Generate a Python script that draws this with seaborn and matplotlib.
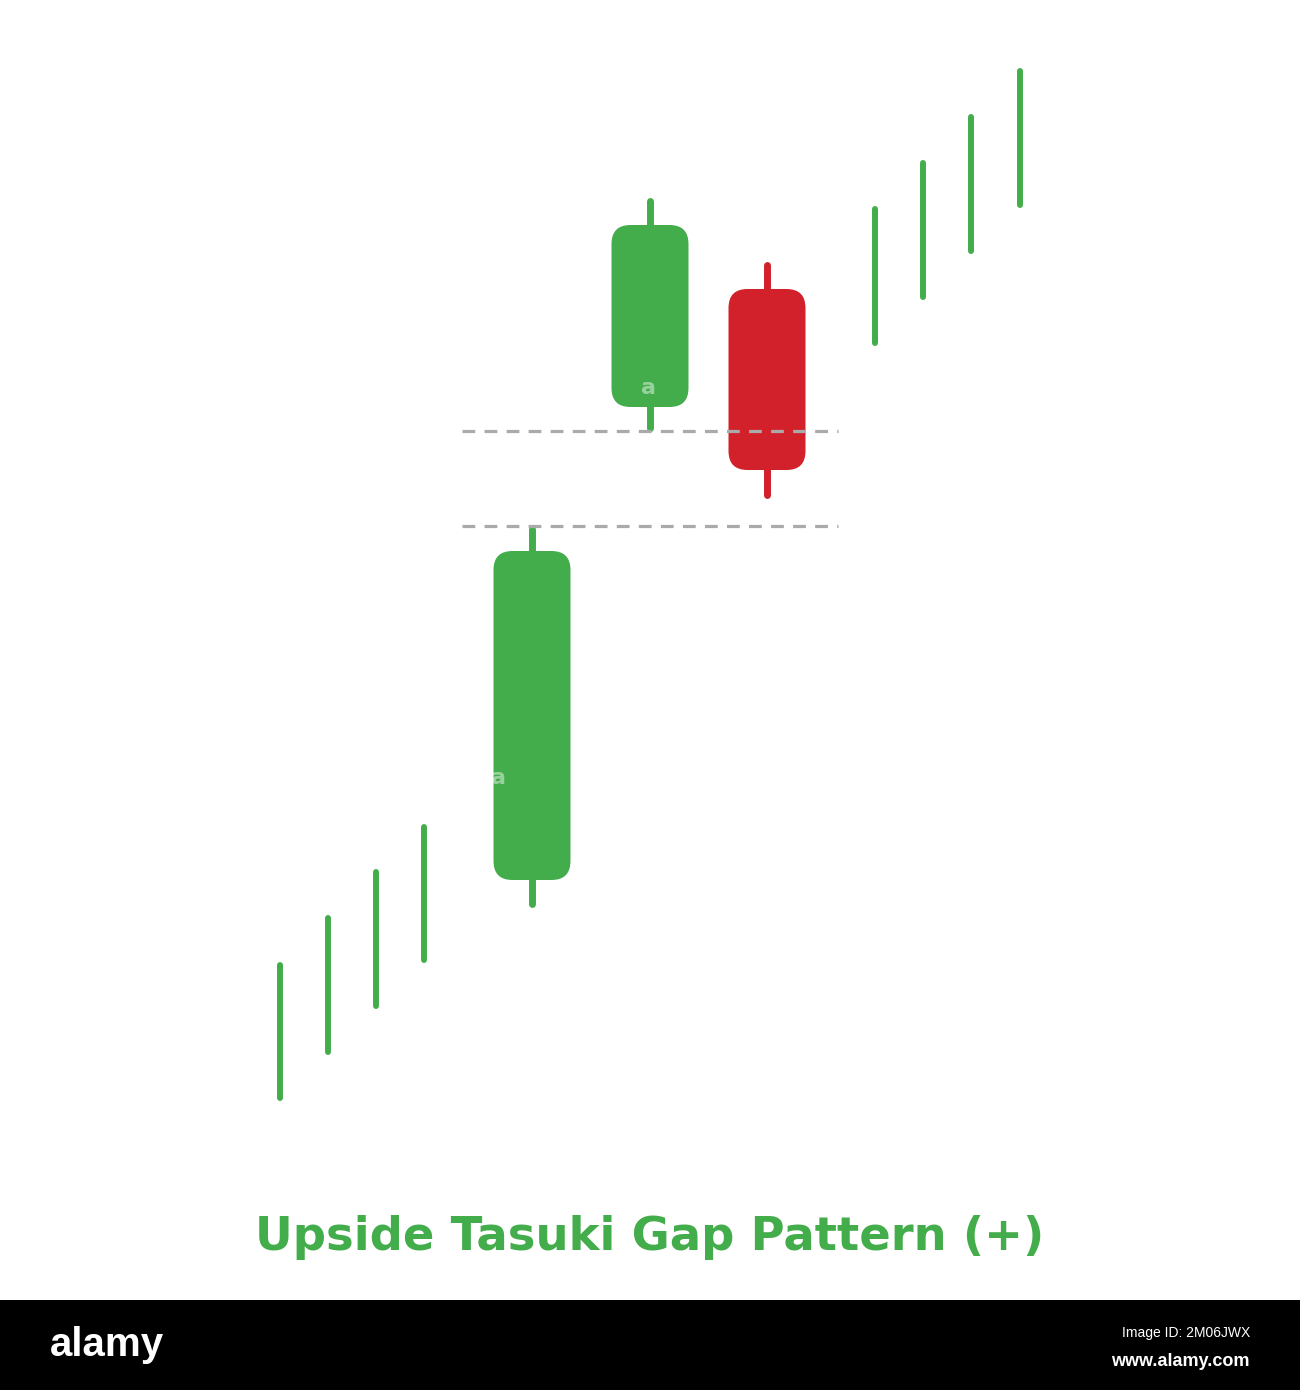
import numpy as np
import pandas as pd
import seaborn as sns
import matplotlib.pyplot as plt
from matplotlib.patches import FancyBboxPatch, Rectangle

# candle data (x position, low, high, open, close); price units = pixel height above banner
xpos = [280, 328, 376, 424, 532, 650, 767, 875, 923, 971, 1020]
lows = [202, 248, 294, 340, 396, 872, 805, 957, 1003, 1049, 1095]
highs = [335, 382, 428, 473, 771, 1099, 1035, 1091, 1137, 1183, 1229]
opens = [None, None, None, None, 420, 893, 1011, None, None, None, None]
closes = [None, None, None, None, 749, 1075, 830, None, None, None, None]
kinds = ["line"] * 4 + ["up", "up", "down"] + ["line"] * 4

gap_levels = [869, 774]
gap_x = [462, 838]

title = "Upside Tasuki Gap Pattern (+)"
GREEN = "#43ad4b"
RED = "#d2212a"

sns.set_theme(style="white")
fig = plt.figure(figsize=(13, 13.9), dpi=100)
ax = fig.add_axes([0, 0, 1, 1])
ax.set_xlim(0, 1300)
ax.set_ylim(-90, 1300)
ax.axis("off")

# wicks / thin lines through seaborn
rows = []
for i, (x, lo, hi) in enumerate(zip(xpos, lows, highs)):
    rows.append({"candle": i, "x": x, "price": lo})
    rows.append({"candle": i, "x": x, "price": hi})
wicks = pd.DataFrame(rows)
colors = {i: (RED if k == "down" else GREEN) for i, k in enumerate(kinds)}
for i, grp in wicks.groupby("candle"):
    lw = 5.0 if kinds[i] != "line" else 4.3
    sns.lineplot(data=grp, x="x", y="price", ax=ax, color=colors[i],
                 linewidth=lw, estimator=None, sort=False,
                 solid_capstyle="round", legend=False)

# gap reference lines
for lvl in gap_levels:
    ax.plot(gap_x, [lvl, lvl], color="#aaaaaa", linewidth=2.3,
            dashes=(4.0, 2.9), zorder=3)

# bodies
body_w = 77
rad = 19
for x, o, c, k in zip(xpos, opens, closes, kinds):
    if o is None:
        continue
    lo, hi = min(o, c), max(o, c)
    col = GREEN if k == "up" else RED
    ax.add_patch(FancyBboxPatch((x - body_w / 2 + rad, lo + rad),
                                body_w - 2 * rad, hi - lo - 2 * rad,
                                boxstyle=f"round,pad={rad}",
                                facecolor=col, edgecolor="none", zorder=2))

# faint watermark marks
for wx, wy in [(649, 912), (499, 522)]:
    ax.text(wx, wy, "a", color="white", alpha=0.45, fontsize=16,
            fontweight="bold", ha="center", va="center", zorder=4)

# title
ax.text(650, 62, title, color=GREEN, fontsize=33.5, fontweight="bold",
        ha="center", va="center", family="DejaVu Sans")

# banner
ax.add_patch(Rectangle((0, -90), 1300, 90, facecolor="black",
                       edgecolor="none", zorder=5))
ax.text(50, -45, "alamy", color="white", fontsize=29, fontweight="bold",
        ha="left", va="center", family="Liberation Sans", zorder=6)
ax.text(1250, -33, "Image ID: 2M06JWX", color="white", fontsize=10,
        ha="right", va="center", family="Liberation Sans", zorder=6)
ax.text(1250, -62, "www.alamy.com", color="white", fontsize=13,
        fontweight="bold", ha="right", va="center",
        family="Liberation Sans", zorder=6)

fig.savefig("out.png", dpi=100, facecolor="white")
